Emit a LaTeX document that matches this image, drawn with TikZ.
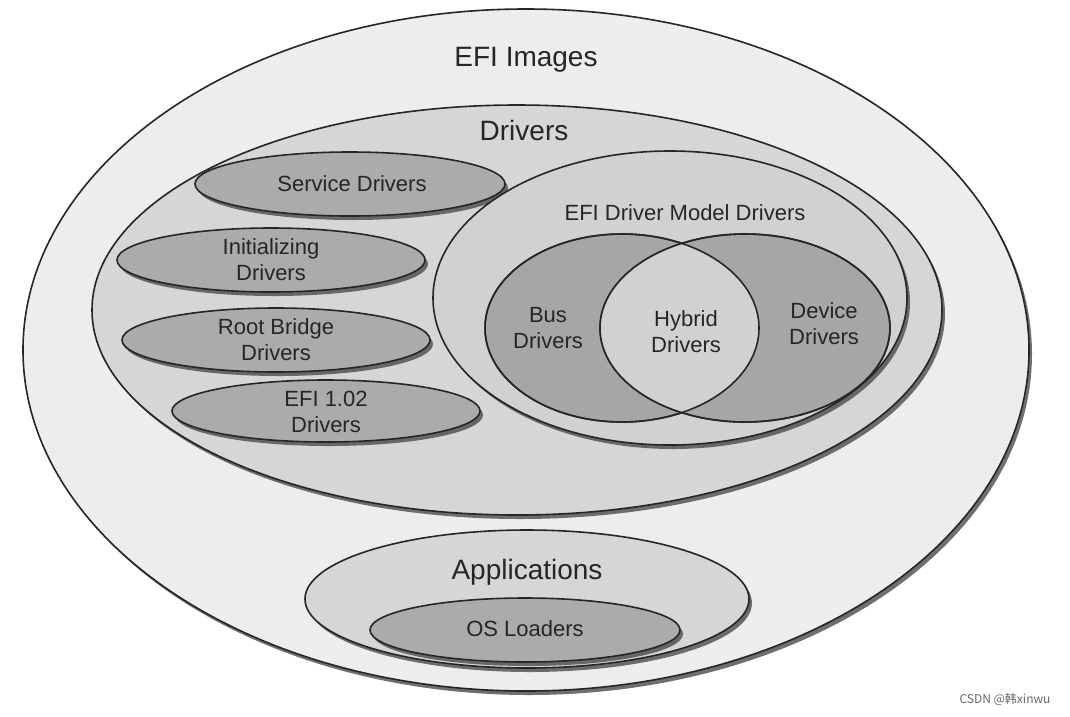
\documentclass[tikz,border=0pt]{standalone}
\usepackage{fontspec}
\setmainfont{Liberation Sans}
\newfontfamily\cjk{Noto Sans CJK SC}
\usetikzlibrary{shadows}
\begin{document}
\begin{tikzpicture}[x=1pt,y=-1pt,
  ell/.style={draw=black!85,line width=1.6pt,drop shadow={shadow xshift=3pt,shadow yshift=-4pt,fill=black!70,opacity=0.8}},
  lbl/.style={font=\fontsize{22}{26}\selectfont,align=center,text=black!85},
  big/.style={font=\fontsize{28}{32}\selectfont,text=black!85}]
\useasboundingbox (0,0) rectangle (1070,716);
\fill[white] (0,0) rectangle (1070,716);
\path[ell,fill=black!7] (526,350) ellipse [x radius=503,y radius=341];
\path[ell,fill=black!16] (517,310) ellipse [x radius=425,y radius=205];
\path[ell,fill=black!33] (350,184) ellipse [x radius=155,y radius=32];
\path[ell,fill=black!33] (271,260) ellipse [x radius=154,y radius=32];
\path[ell,fill=black!33] (276,340) ellipse [x radius=154,y radius=32];
\path[ell,fill=black!33] (326,411) ellipse [x radius=154,y radius=31];
\path[ell,fill=black!18] (670,298) ellipse [x radius=237,y radius=147];
\path[draw=black!85,line width=1.6pt,fill=black!35] (622,328) ellipse [x radius=137,y radius=94];
\path[draw=black!85,line width=1.6pt,fill=black!35] (745,328) ellipse [x radius=145,y radius=94];
\begin{scope}
\clip (622,328) ellipse [x radius=137,y radius=94];
\fill[black!18] (745,328) ellipse [x radius=145,y radius=94];
\end{scope}
\draw[black!85,line width=1.6pt] (622,328) ellipse [x radius=137,y radius=94];
\draw[black!85,line width=1.6pt] (745,328) ellipse [x radius=145,y radius=94];
\path[ell,fill=black!16] (527,599) ellipse [x radius=222,y radius=69];
\path[ell,fill=black!33] (525,630) ellipse [x radius=155,y radius=32];
\node[big] (efi) at (526,60) {EFI Images};
\node[big] (drv) at (524,130) {Drivers};
\node[lbl] (svc) at (352,184) {Service Drivers};
\node[lbl] (ini) at (271,260) {Initializing\\Drivers};
\node[lbl] (rb) at (276,340) {Root Bridge\\Drivers};
\node[lbl] (e102) at (326,412) {EFI 1.02\\Drivers};
\node[lbl] (edm) at (685,213) {EFI Driver Model Drivers};
\node[lbl] (bus) at (548,328) {Bus\\Drivers};
\node[lbl] (hyb) at (686,332) {Hybrid\\Drivers};
\node[lbl] (dev) at (824,324) {Device\\Drivers};
\node[big] (app) at (527,572) {Applications};
\node[lbl] (os) at (525,629) {OS Loaders};
\node[font=\cjk\fontsize{12}{14}\selectfont,text=black!60] (wm) at (1005,699) {CSDN @韩xinwu};
\end{tikzpicture}
\end{document}
